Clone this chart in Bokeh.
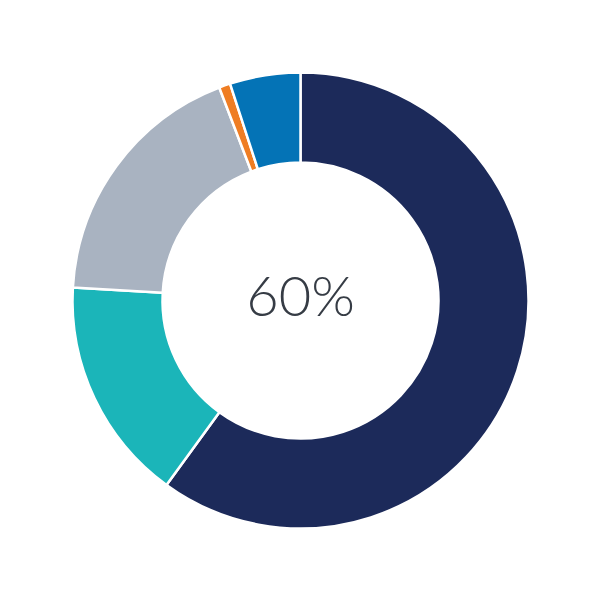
import numpy as np
from bokeh.plotting import figure
from bokeh.models import ColumnDataSource
from bokeh.core.properties import value
from bokeh.embed import file_html
from bokeh.resources import INLINE

categories = ["Navy", "Teal", "Gray", "Orange", "Blue"]
shares = [60.0, 15.9, 18.3, 0.8, 5.0]
colors = ["#1c2a5a", "#1bb5b9", "#a9b3c1", "#ef7d23", "#0473b6"]
center_label = "60%"

total = sum(shares)
cum = np.cumsum([0] + shares) / total
starts = np.pi / 2 - cum[:-1] * 2 * np.pi
ends = np.pi / 2 - cum[1:] * 2 * np.pi

src = ColumnDataSource(dict(cat=categories, start=starts, end=ends, color=colors))

p = figure(width=600, height=600, x_range=(-300, 300), y_range=(-300, 300),
           output_backend="svg", toolbar_location=None, min_border=0)
p.axis.visible = False
p.grid.visible = False
p.outline_line_color = None
p.background_fill_color = "white"

p.annular_wedge(x=0, y=0, inner_radius=138, outer_radius=228,
                start_angle="start", end_angle="end", direction="clock",
                fill_color="color", line_color="white", line_width=2.5, source=src)

p.text(x=[0], y=[6], text=[center_label], text_align="center", text_baseline="middle",
       text_font=value("Lato Light, Lato"), text_font_size="56px", text_color="#363c45",
       text_font_style="normal")

open("out.html", "w").write(file_html(p, INLINE))
